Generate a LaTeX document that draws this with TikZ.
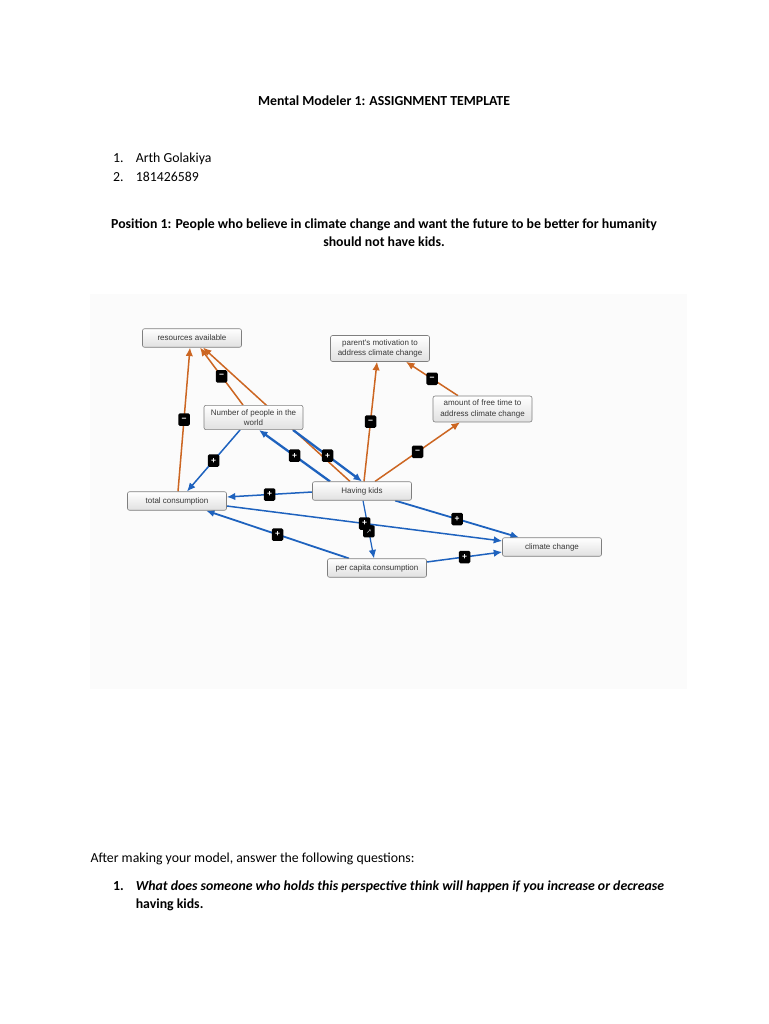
\documentclass[tikz,border=0pt]{standalone}
\usepackage{fontspec}
\setmainfont{Carlito}
\newfontfamily\mmfont{Liberation Sans}
\newfontfamily\mmsym{DejaVu Sans}
\usetikzlibrary{arrows.meta}

\definecolor{mmorange}{HTML}{CC6622}
\definecolor{mmblue}{HTML}{1E62BE}
\definecolor{mmtext}{HTML}{383838}
\definecolor{mmframe}{HTML}{7F7F7F}
\newcommand\docsize{\fontsize{13.8}{16.5}\selectfont}

\pgfdeclarelayer{panel}
\pgfdeclarelayer{links}
\pgfsetlayers{panel,links,main}

\begin{document}
\begin{tikzpicture}[x=1pt, y=-1pt,
  doc/.style={anchor=base west, inner sep=0pt, font=\docsize},
  concept/.style={rectangle, rounded corners=2pt, draw=mmframe, line width=0.6pt, top color=white, bottom color=black!12, minimum width=99pt, minimum height=18.5pt, inner xsep=3pt, inner ysep=4pt, align=center, text=mmtext, font=\mmfont\fontsize{8}{10.5}\selectfont},
  link/.style={line width=1.5pt, -{Latex[length=8.5pt,width=7.5pt]}},
  poslink/.style={link, draw=mmblue, fill=mmblue},
  neglink/.style={link, draw=mmorange, fill=mmorange},
  sign/.style={fill=black, rounded corners=1.5pt, minimum width=11.5pt, minimum height=12.5pt, inner sep=0pt, text=white, font=\mmfont\bfseries\fontsize{8.5}{8.5}\selectfont}
]
  \useasboundingbox (0,0) rectangle (768,1024);

  \node[doc, anchor=base, font=\docsize\bfseries] (title) at (384,106) {Mental Modeler 1: ASSIGNMENT TEMPLATE};
  \node[doc] (n1) at (113,163) {1.};
  \node[doc] (name) at (135.6,163) {Arth Golakiya};
  \node[doc] (n2) at (113,182) {2.};
  \node[doc] (sid) at (135.6,182) {181426589};
  \node[doc, anchor=base, font=\docsize\bfseries] (pos1) at (384,229) {Position 1: People who believe in climate change and want the future to be better for humanity};
  \node[doc, anchor=base, font=\docsize\bfseries] (pos2) at (384,247) {should not have kids.};

  \begin{pgfonlayer}{panel}
    \fill[black!1.5] (90,294) rectangle (687,689);
  \end{pgfonlayer}

  \node[concept] (res) at (192,338) {resources available};
  \node[concept] (par) at (380,348.5) {parent's motivation to\\address climate change};
  \node[concept] (npl) at (253.5,417.5) {Number of people in the\\world};
  \node[concept] (aft) at (482.5,409) {amount of free time to\\address climate change};
  \node[concept] (hk) at (362,491) {Having kids};
  \node[concept] (tc) at (177,501) {total consumption};
  \node[concept] (cc) at (552,547) {climate change};
  \node[concept] (pcc) at (377,568) {per capita consumption};

  \begin{pgfonlayer}{links}
    \draw[neglink] ([xshift=1pt]tc.north) -- node[sign] {−} ([xshift=-2pt]res.south);
    \draw[neglink] ([xshift=-10.5pt]npl.north) -- node[sign] {−} ([xshift=8pt]res.south);
    \draw[neglink] ([xshift=-12pt]hk.north) -- ([xshift=11pt]res.south);
    \draw[neglink] ([xshift=2pt]hk.north) -- node[sign] {−} ([xshift=-3pt]par.south);
    \draw[neglink] ([xshift=13pt]hk.north) -- node[sign] {−} ([xshift=-22.5pt]aft.south);
    \draw[neglink] ([xshift=-24.5pt]aft.north) -- node[sign] {−} ([xshift=26pt]par.south);
    \draw[poslink] ([xshift=-13.5pt]npl.south) -- node[sign] {+} ([xshift=10pt]tc.north);
    \draw[poslink, line width=2.3pt] ([xshift=-32pt]hk.north) -- node[sign] {+} ([xshift=5.5pt]npl.south);
    \draw[poslink, line width=2.3pt] ([xshift=39.5pt]npl.south) -- node[sign] {+} (hk.north);
    \draw[poslink] ([yshift=-1pt]hk.west) -- node[sign] {+} ([yshift=4pt]tc.east);
    \draw[poslink, line width=1.2pt] ([xshift=1pt]hk.south) -- node[sign, pos=0.53, font=\mmsym\fontsize{6}{6}\selectfont] {↗} ([xshift=-3pt]pcc.north);
    \draw[poslink] ([yshift=-5pt]tc.east) -- node[sign] {+} ([yshift=6pt]cc.west);
    \draw[poslink, line width=1.8pt] ([xshift=-28pt]pcc.north) -- node[sign] {+} ([xshift=29pt]tc.south);
    \draw[poslink, line width=1.8pt] ([xshift=33pt]hk.south) -- node[sign] {+} ([xshift=-33pt]cc.north);
    \draw[poslink] ([yshift=6pt]pcc.east) -- node[sign] {+} ([yshift=-5pt]cc.west);
  \end{pgfonlayer}

  \node[doc] (after) at (90.4,862) {After making your model, answer the following questions:};
  \node[doc, font=\docsize\bfseries] (q1) at (113,890) {1.};
  \node[doc, font=\docsize\bfseries\itshape] (q1a) at (135.6,890) {What does someone who holds this perspective think will happen if you increase or decrease};
  \node[doc, font=\docsize\bfseries] (q1b) at (135.6,908) {having kids.};
\end{tikzpicture}
\end{document}
